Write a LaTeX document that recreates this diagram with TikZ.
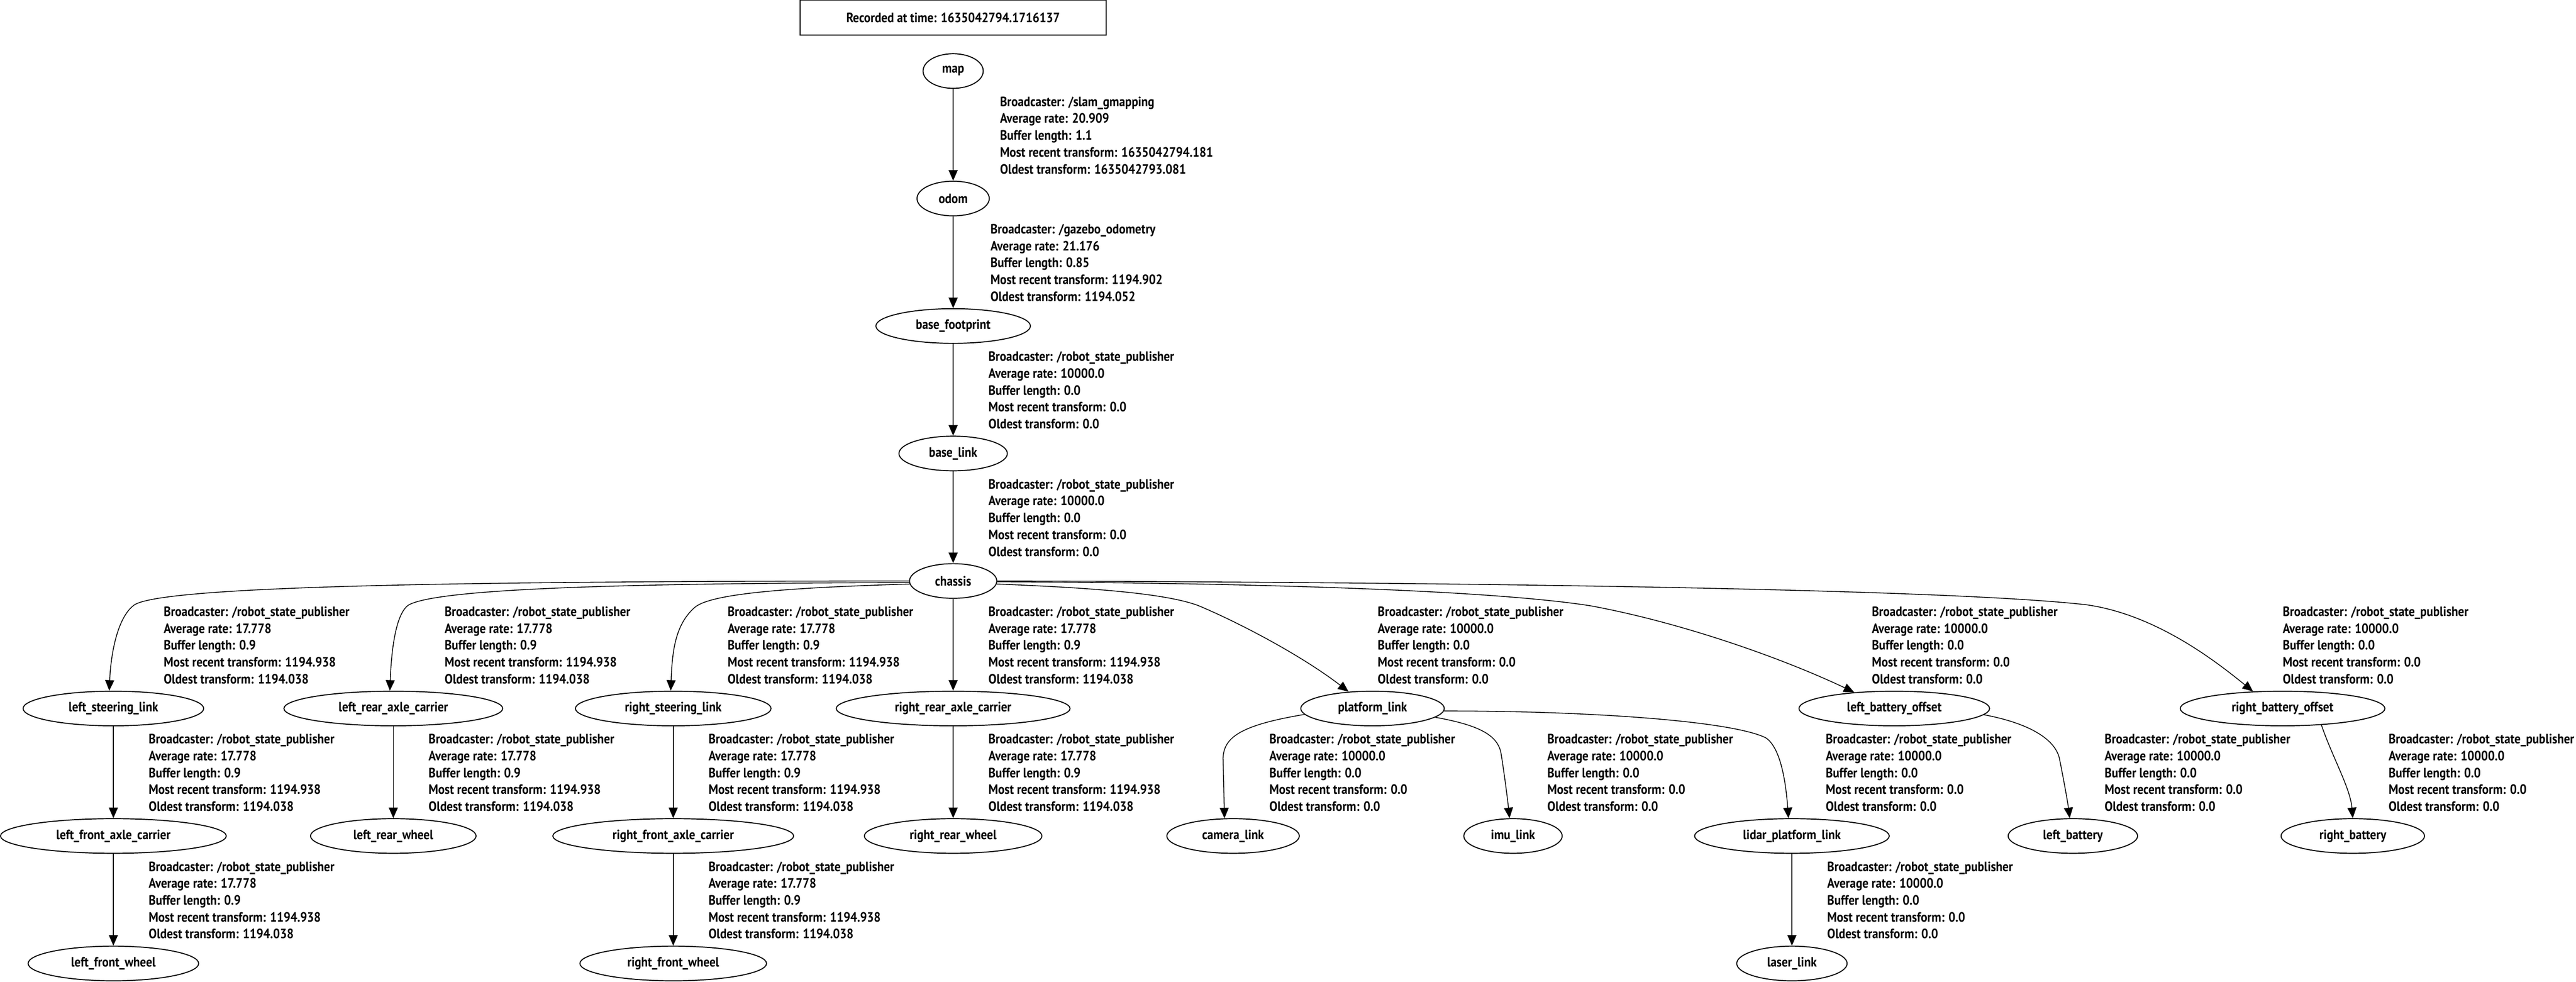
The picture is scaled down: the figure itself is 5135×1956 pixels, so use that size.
\documentclass[tikz,border=0pt]{standalone}
\usepackage{fontspec}
\setmainfont{PT Sans}[FakeStretch=0.89]
\usetikzlibrary{shapes.geometric,arrows.meta}
\newcommand{\tfwheel}{Broadcaster: /robot\_state\_publisher\\Average rate: 17.778\\Buffer length: 0.9\\Most recent transform: 1194.938\\Oldest transform: 1194.038}
\newcommand{\tfstatic}{Broadcaster: /robot\_state\_publisher\\Average rate: 10000.0\\Buffer length: 0.0\\Most recent transform: 0.0\\Oldest transform: 0.0}
\begin{document}
\begin{tikzpicture}[x=0.5pt,y=-0.5pt,
  font=\fontsize{13.5}{16.8}\selectfont\bfseries,
  tf/.style={draw, ellipse, line width=1pt, inner sep=0pt, minimum height=34.5pt},
  lbl/.style={anchor=west, align=left, inner sep=0pt},
  edge/.style={line width=0.8pt, -{Triangle[length=10.5pt,width=9pt]}}]
\useasboundingbox (0,0) rectangle (5135,1956);
% title
\node[draw, line width=1pt, minimum width=305pt, minimum height=35pt, inner sep=0pt] (title) at (1900,35) {Recorded at time: 1635042794.1716137};
% frames
\node[tf,minimum width=60pt] (map) at (1900,141.5) {map};
\node[tf,minimum width=72pt] (odom) at (1900,395.5) {odom};
\node[tf,minimum width=154pt] (bf) at (1900,649.5) {base\_footprint};
\node[tf,minimum width=108pt] (bl) at (1900,903.5) {base\_link};
\node[tf,minimum width=87pt] (ch) at (1900,1157.5) {chassis};
\node[tf,minimum width=180pt] (lsl) at (226,1411.5) {left\_steering\_link};
\node[tf,minimum width=218pt] (lrac) at (784,1411.5) {left\_rear\_axle\_carrier};
\node[tf,minimum width=195pt] (rsl) at (1342,1411.5) {right\_steering\_link};
\node[tf,minimum width=233pt] (rrac) at (1900,1411.5) {right\_rear\_axle\_carrier};
\node[tf,minimum width=143pt] (pl) at (2736,1411.5) {platform\_link};
\node[tf,minimum width=190pt] (lbo) at (3776,1411.5) {left\_battery\_offset};
\node[tf,minimum width=204pt] (rbo) at (4550,1411.5) {right\_battery\_offset};
\node[tf,minimum width=225pt] (lfac) at (226,1665.5) {left\_front\_axle\_carrier};
\node[tf,minimum width=165pt] (lrw) at (784,1665.5) {left\_rear\_wheel};
\node[tf,minimum width=240pt] (rfac) at (1342,1665.5) {right\_front\_axle\_carrier};
\node[tf,minimum width=177pt] (rrw) at (1900,1665.5) {right\_rear\_wheel};
\node[tf,minimum width=132pt] (cam) at (2458,1665.5) {camera\_link};
\node[tf,minimum width=98pt] (imu) at (3016,1665.5) {imu\_link};
\node[tf,minimum width=194pt] (lpl) at (3572,1665.5) {lidar\_platform\_link};
\node[tf,minimum width=129pt] (lb) at (4132,1665.5) {left\_battery};
\node[tf,minimum width=143pt] (rb) at (4690,1665.5) {right\_battery};
\node[tf,minimum width=170pt] (lfw) at (226,1919.5) {left\_front\_wheel};
\node[tf,minimum width=186pt] (rfw) at (1342,1919.5) {right\_front\_wheel};
\node[tf,minimum width=110pt] (laser) at (3572,1919.5) {laser\_link};
% labels
\node[lbl] (l1) at (1993,269.5) {Broadcaster: /slam\_gmapping\\Average rate: 20.909\\Buffer length: 1.1\\Most recent transform: 1635042794.181\\Oldest transform: 1635042793.081};
\node[lbl] (l2) at (1974,523.5) {Broadcaster: /gazebo\_odometry\\Average rate: 21.176\\Buffer length: 0.85\\Most recent transform: 1194.902\\Oldest transform: 1194.052};
\node[lbl] (l3) at (1970,777.5) {\tfstatic};
\node[lbl] (l4) at (1970,1031.5) {\tfstatic};
\node[lbl] (l5) at (326,1285.5) {\tfwheel};
\node[lbl] (l6) at (886,1285.5) {\tfwheel};
\node[lbl] (l7) at (1450,1285.5) {\tfwheel};
\node[lbl] (l8) at (1970,1285.5) {\tfwheel};
\node[lbl] (l9) at (2746,1285.5) {\tfstatic};
\node[lbl] (l10) at (3731,1285.5) {\tfstatic};
\node[lbl] (l11) at (4550,1285.5) {\tfstatic};
\node[lbl] (l12) at (296,1539.5) {\tfwheel};
\node[lbl] (l13) at (854,1539.5) {\tfwheel};
\node[lbl] (l14) at (1412,1539.5) {\tfwheel};
\node[lbl] (l15) at (1970,1539.5) {\tfwheel};
\node[lbl] (l16) at (2530,1539.5) {\tfstatic};
\node[lbl] (l17) at (3084,1539.5) {\tfstatic};
\node[lbl] (l18) at (3639,1539.5) {\tfstatic};
\node[lbl] (l19) at (4195,1539.5) {\tfstatic};
\node[lbl] (l20) at (4761,1539.5) {\tfstatic};
\node[lbl] (l21) at (296,1793.5) {\tfwheel};
\node[lbl] (l22) at (1412,1793.5) {\tfwheel};
\node[lbl] (l23) at (3642,1793.5) {\tfstatic};
% straight edges
\draw[edge] (map) -- (odom);
\draw[edge] (odom) -- (bf);
\draw[edge] (bf) -- (bl);
\draw[edge] (bl) -- (ch);
\draw[edge] (ch) -- (rrac);
\draw[edge] (lsl) -- (lfac);
\draw[edge] (lrac) -- (lrw);
\draw[edge] (rsl) -- (rfac);
\draw[edge] (rrac) -- (rrw);
\draw[edge] (lfac) -- (lfw);
\draw[edge] (rfac) -- (rfw);
\draw[edge] (lpl) -- (laser);
% curved edges
\draw[edge] (ch.180) .. controls (1000,1158) and (330,1165) .. (268,1205) .. controls (235,1228) and (221,1300) .. (lsl.103);
\draw[edge] (ch.182) .. controls (1300,1162) and (880,1170) .. (815,1205) .. controls (788,1222) and (780,1300) .. (lrac.101);
\draw[edge] (ch.184) .. controls (1600,1170) and (1420,1180) .. (1385,1210) .. controls (1345,1245) and (1340,1300) .. (rsl.98);
\draw[edge] (ch.-4) .. controls (2150,1170) and (2320,1180) .. (2390,1207) .. controls (2480,1245) and (2600,1310) .. (pl.145);
\draw[edge] (ch.-1) .. controls (2600,1162) and (3000,1180) .. (3171,1207) .. controls (3350,1240) and (3550,1310) .. (lbo.158);
\draw[edge] (ch.0) .. controls (3000,1160) and (3900,1175) .. (4160,1205) .. controls (4300,1225) and (4420,1320) .. (rbo.150);
\draw[edge] (pl.185) .. controls (2470,1445) and (2440,1470) .. (2438,1510) -- (cam.116);
\draw[edge] (pl.-8) .. controls (2950,1445) and (2985,1465) .. (2992,1500) .. controls (3000,1550) and (3006,1600) .. (imu.101);
\draw[edge] (pl.-2) .. controls (3150,1416) and (3450,1435) .. (3520,1470) .. controls (3550,1490) and (3560,1560) .. (lpl.101);
\draw[edge] (lbo.-4) .. controls (4040,1440) and (4095,1470) .. (4105,1510) .. controls (4115,1560) and (4122,1600) .. (lb.100);
\draw[edge] (rbo.-23) .. controls (4650,1510) and (4685,1570) .. (rb.north);
\end{tikzpicture}
\end{document}
